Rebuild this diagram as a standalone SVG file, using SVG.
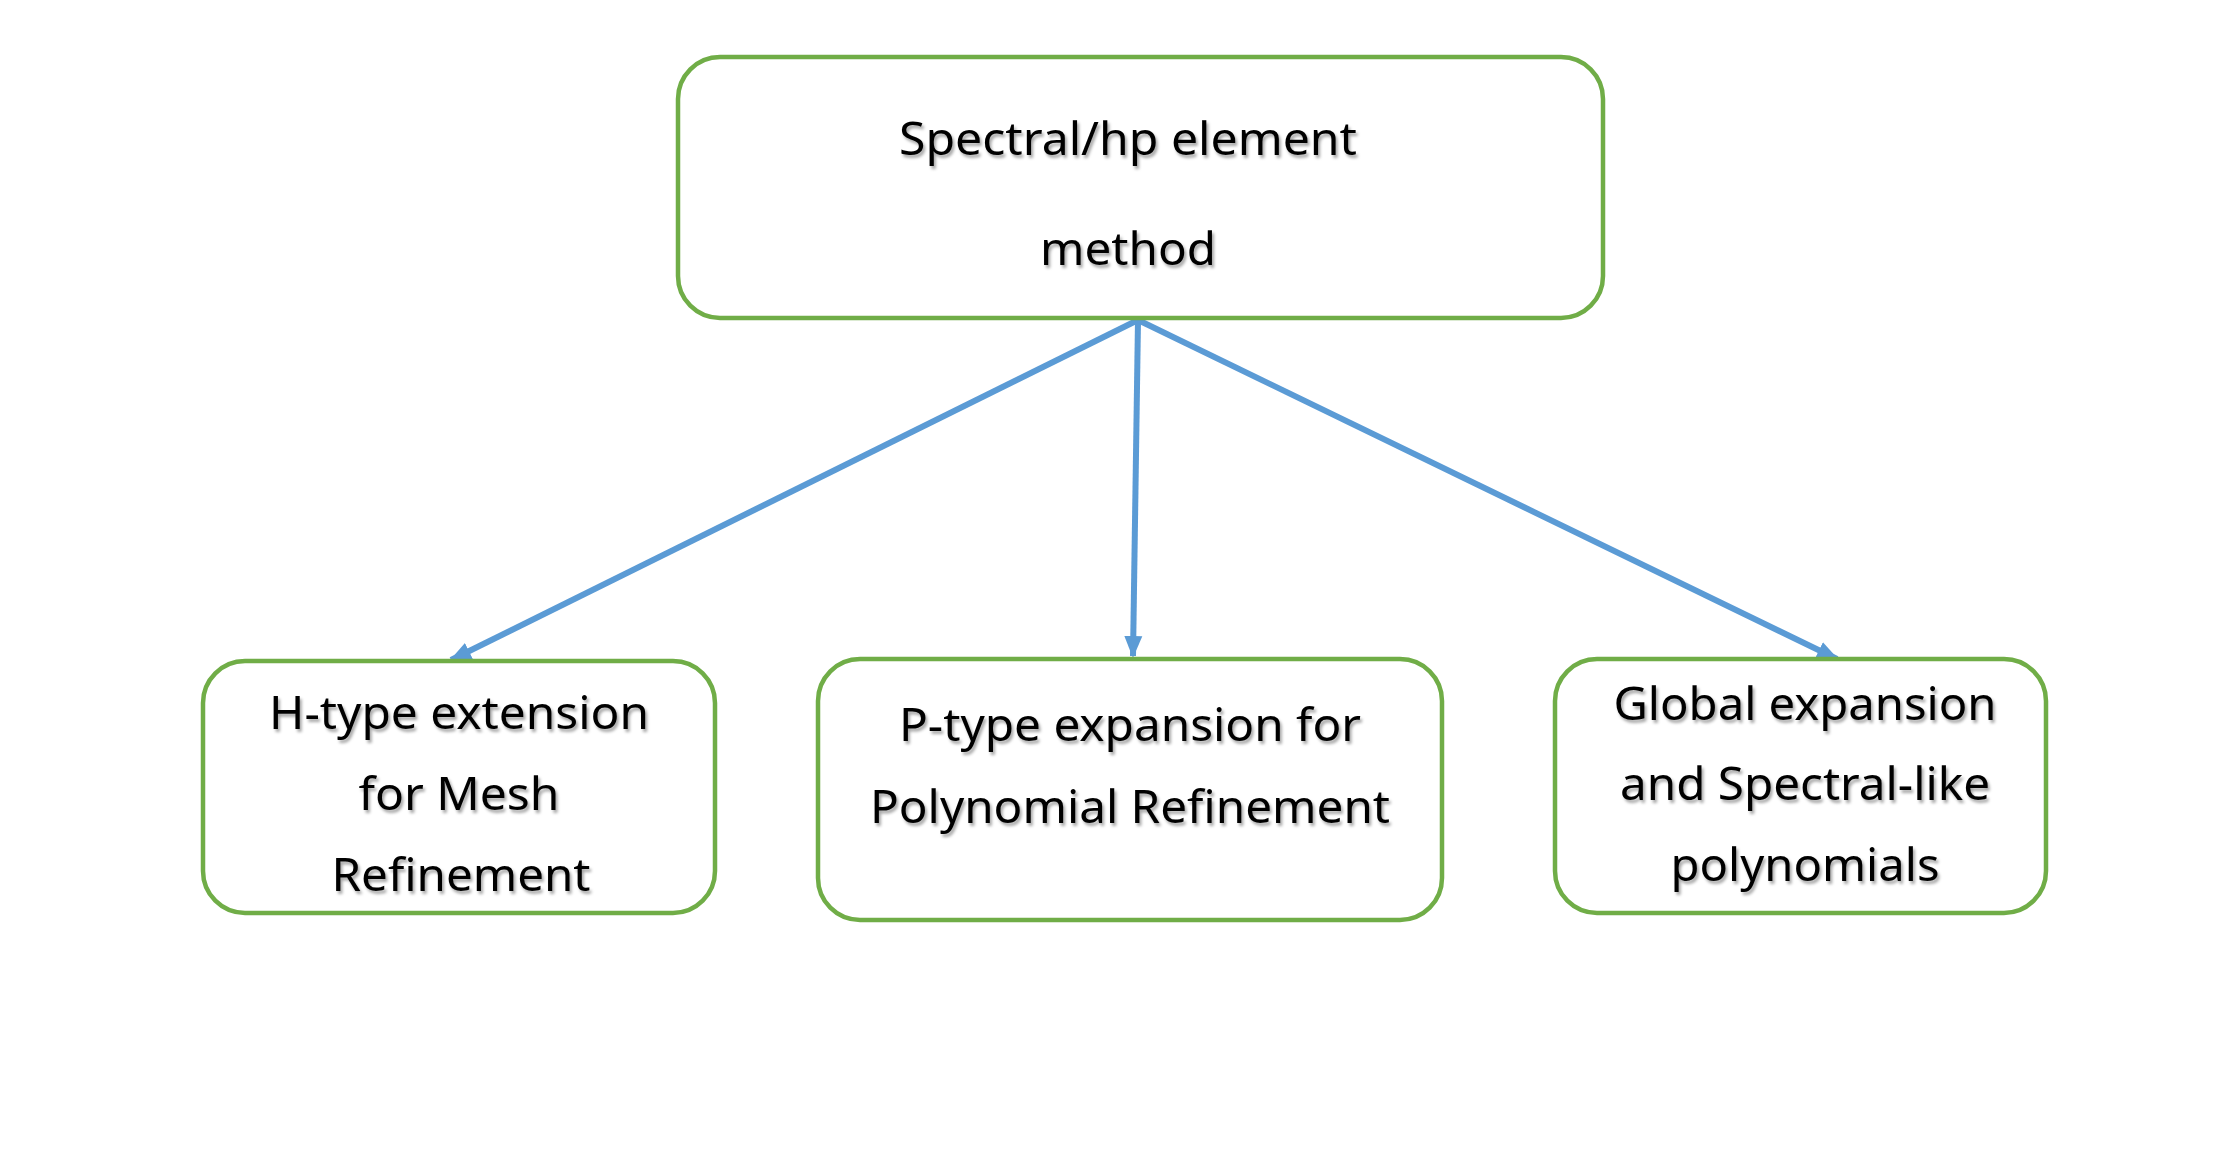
<svg xmlns="http://www.w3.org/2000/svg" width="2223" height="1165" viewBox="0 0 2223 1165">
<style>
.box{fill:#ffffff;stroke:#70AD47;stroke-width:4.5}
.lbl{font-family:"Noto Sans","Open Sans",sans-serif;font-size:46px;fill:#000000;text-anchor:middle;filter:url(#sh)}
.conn{stroke:#5B9BD5;stroke-width:6;fill:none;marker-end:url(#ah)}
</style>
<defs>
<filter id="sh" x="-10%" y="-30%" width="120%" height="160%">
<feDropShadow dx="2" dy="3" stdDeviation="1.5" flood-color="#000000" flood-opacity="0.35"/>
</filter>
<marker id="ah" markerUnits="userSpaceOnUse" markerWidth="22" markerHeight="22" viewBox="0 0 22 22" refX="20" refY="11" orient="auto">
<path d="M0,2 L22,11 L0,20 Z" fill="#5B9BD5"/>
</marker>
</defs>
<rect width="2223" height="1165" fill="#ffffff"/>
<g id="connectors">
<line class="conn" x1="1138" y1="320" x2="451" y2="660"/>
<line class="conn" x1="1138" y1="320" x2="1133" y2="656"/>
<line class="conn" x1="1138" y1="320" x2="1837" y2="659"/>
</g>
<g id="node-top">
<rect class="box" x="678" y="57" width="925" height="261" rx="42" ry="42"/>
<text class="lbl" x="1128" y="155" textLength="458" lengthAdjust="spacingAndGlyphs">Spectral/hp element</text>
<text class="lbl" x="1128" y="265" textLength="176" lengthAdjust="spacingAndGlyphs">method</text>
</g>
<g id="node-h">
<rect class="box" x="203" y="661" width="512" height="252" rx="42" ry="42"/>
<text class="lbl" x="459" y="729" textLength="380" lengthAdjust="spacingAndGlyphs">H-type extension</text>
<text class="lbl" x="459" y="810" textLength="201" lengthAdjust="spacingAndGlyphs">for Mesh</text>
<text class="lbl" x="461" y="891" textLength="259" lengthAdjust="spacingAndGlyphs">Refinement</text>
</g>
<g id="node-p">
<rect class="box" x="818" y="659" width="624" height="261" rx="42" ry="42"/>
<text class="lbl" x="1130" y="741" textLength="462" lengthAdjust="spacingAndGlyphs">P-type expansion for</text>
<text class="lbl" x="1130" y="823" textLength="520" lengthAdjust="spacingAndGlyphs">Polynomial Refinement</text>
</g>
<g id="node-g">
<rect class="box" x="1555" y="659" width="491" height="254" rx="42" ry="42"/>
<text class="lbl" x="1805" y="720" textLength="383" lengthAdjust="spacingAndGlyphs">Global expansion</text>
<text class="lbl" x="1805" y="800" textLength="370" lengthAdjust="spacingAndGlyphs">and Spectral-like</text>
<text class="lbl" x="1805" y="881" textLength="269" lengthAdjust="spacingAndGlyphs">polynomials</text>
</g>
</svg>
